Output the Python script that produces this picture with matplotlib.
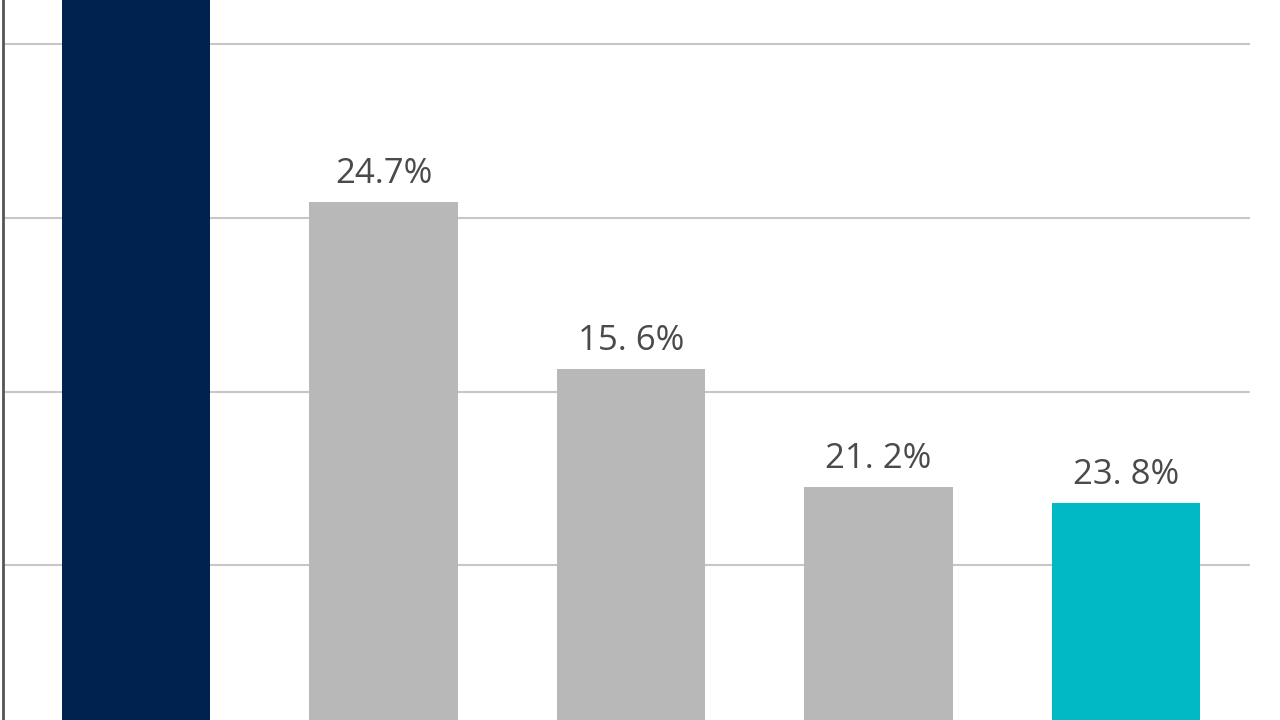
import matplotlib.pyplot as plt

# bar heights (grid lines at 10, 20, 30, 40)
heights = [46.0, 30.9, 21.3, 14.5, 13.6]
# value labels printed above the bars (first one is cut off at the top)
labels = [None, "24.7%", "15. 6%", "21. 2%", "23. 8%"]
colors = ["#00224f", "#b8b8b8", "#b8b8b8", "#b8b8b8", "#00b9c4"]

positions = list(range(len(heights)))

fig = plt.figure(figsize=(12.8, 7.2), dpi=100)
ax = fig.add_axes([3 / 1280, 0, 1247 / 1280, 1])

ax.bar(positions, heights, width=0.6, color=colors, zorder=2)

# value labels, baseline a little above each bar
for x, h, lab in zip(positions, heights, labels):
    if lab is None:
        continue
    ax.annotate(lab, (x, h), xytext=(0, 13.5), textcoords="offset points",
                ha="center", va="baseline", fontsize=25, color="#4a4a4a",
                family="Open Sans")

ax.set_xlim(-0.537, 4.5)
ax.set_ylim(1.09, 42.54)
ax.set_yticks([10, 20, 30, 40])
ax.set_xticks([])
ax.tick_params(axis="y", length=0, labelleft=False)
ax.grid(axis="y", color="#c6c6c6", linewidth=1.5, zorder=0)
ax.set_axisbelow(True)

for side in ["top", "right", "bottom"]:
    ax.spines[side].set_visible(False)
ax.spines["left"].set_color("#555555")
ax.spines["left"].set_linewidth(2)

fig.savefig("out.png", dpi=100)
